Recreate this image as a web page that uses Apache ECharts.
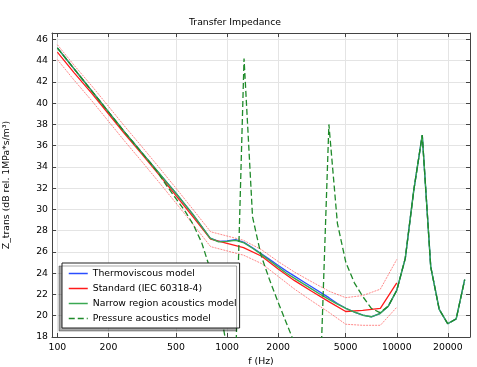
<!DOCTYPE html>
<html><head><meta charset="utf-8">
<script src="https://cdn.jsdelivr.net/npm/echarts@6/dist/echarts.min.js"></script>
<style>html,body{margin:0;padding:0;background:#fff}#c{width:477px;height:367px}</style>
</head><body><div id="c"></div>
<script>
// model frequencies (Hz), 1/20-decade spacing
const freqModel = [100,112.2,125.9,141.3,158.5,177.8,199.5,223.9,251.2,281.8,316.2,354.8,398.1,446.7,501.2,562.3,631,707.9,794.3,891.3,1000,1122,1259,1413,1585,1778,1995,2239,2512,2818,3162,3548,3981,4467,5012,5623,6310,7079,7943,8913,10000,11220,12589,14125,15849,17783,19953,22387,25119];
const thermoviscous = [45.2,44.2,43.2,42.2,41.2,40.2,39.2,38.2,37.2,36.25,35.3,34.35,33.4,32.45,31.5,30.5,29.5,28.4,27.3,27.0,27.05,27.15,26.9,26.4,25.85,25.3,24.75,24.2,23.7,23.2,22.7,22.2,21.7,21.15,20.7,20.35,20.05,19.9,20.2,20.9,22.4,25.4,31.8,37.0,24.6,20.6,19.25,19.7,23.4];
const narrowRegion = [45.2,44.2,43.2,42.2,41.2,40.2,39.2,38.2,37.2,36.25,35.3,34.35,33.4,32.45,31.5,30.5,29.5,28.4,27.3,26.95,27.0,27.1,26.85,26.35,25.8,25.2,24.6,24.0,23.5,23.0,22.5,22.0,21.55,21.1,20.7,20.35,20.05,19.9,20.2,20.9,22.4,25.4,31.8,37.0,24.6,20.6,19.25,19.7,23.4];
const pressureAcoustics = [45.2,44.2,43.2,42.2,41.2,40.2,39.2,38.2,37.2,36.25,35.3,34.35,33.3,32.1,31.0,29.9,28.6,26.9,24.4,21.4,16.9,15.3,44.2,29.3,25.7,23.4,21.3,19.3,17.3,15.0,13.5,14.4,38.0,28.7,25.0,23.1,21.8,20.7,20.3,20.9,22.4,25.4,31.8,37.0,24.6,20.6,19.25,19.7,23.4];
// IEC 60318-4 standard curve and tolerance limits (1/3-octave)
const freqStd = [100,125,160,200,250,315,400,500,630,800,1000,1250,1600,2000,2500,3150,4000,5000,6300,8000,10000];
const standard = [44.8,42.9,40.9,39.0,37.1,35.2,33.2,31.3,29.3,27.2,26.8,26.4,25.6,24.4,23.3,22.3,21.3,20.4,20.5,20.7,23.1];
const stdUpper = [45.5,43.6,41.6,39.7,37.8,35.9,33.9,32.0,30.0,27.9,27.5,27.1,26.2,25.1,24.1,23.2,22.3,21.7,21.9,22.5,25.3];
const stdLower = [44.1,42.2,40.2,38.3,36.4,34.5,32.5,30.6,28.6,26.5,26.1,25.7,24.9,23.7,22.5,21.4,20.3,19.2,19.1,19.1,20.8];
const xTicks = [100,200,500,1000,2000,5000,10000,20000];

const FONT = 'DejaVu Sans';
const FS = 9.3;
function pairs(xs, ys){ return xs.map((x,i)=>[x, ys[i]]); }

const chart = echarts.init(document.getElementById('c'), null, {renderer:'canvas'});
const axisLineStyle = {color:'#444', width:1};
const tickStyle = {show:true, inside:true, length:4, lineStyle:{color:'#444', width:1}};
chart.setOption({
  animation:false,
  backgroundColor:'#fff',
  title:{text:'Transfer Impedance', left:189, top:18, padding:0, textStyle:{fontFamily:FONT, fontSize:FS, fontWeight:'normal', color:'#000'}},
  grid:{left:52, right:7, top:33, bottom:30, containLabel:false, outerBoundsMode:'none'},
  legend:{
    data:['Thermoviscous model','Standard (IEC 60318-4)','Narrow region acoustics model','Pressure acoustics model'],
    orient:'vertical', left:62, top:263, padding:[4,3,3,6], itemGap:2, itemWidth:19, itemHeight:12,
    backgroundColor:'#fff', borderColor:'#222', borderWidth:1,
    shadowColor:'rgba(0,0,0,0.35)', shadowBlur:0, shadowOffsetX:-3, shadowOffsetY:3,
    itemStyle:{opacity:0},
    lineStyle:{width:1.5},
    textStyle:{fontFamily:FONT, fontSize:FS, color:'#000', lineHeight:13}
  },
  xAxis:[{
    type:'log', min:93, max:27000, position:'bottom',
    name:'f (Hz)', nameLocation:'middle', nameGap:13,
    nameTextStyle:{fontFamily:FONT, fontSize:FS, color:'#000'},
    axisLine:{show:true, lineStyle:axisLineStyle},
    axisTick:Object.assign({customValues:xTicks}, tickStyle),
    minorTick:{show:false},
    axisLabel:{customValues:xTicks, margin:6, fontFamily:FONT, fontSize:FS, color:'#000', formatter:v=>String(Math.round(v))},
    splitLine:{show:true, lineStyle:{color:'#e4e4e4', width:1}}
  },{
    type:'log', min:93, max:27000, position:'top',
    axisLine:{show:true, lineStyle:axisLineStyle},
    axisTick:Object.assign({customValues:xTicks}, tickStyle),
    axisLabel:{show:false}, splitLine:{show:false}
  }],
  yAxis:[{
    type:'value', min:18, max:46.6, interval:2, position:'left',
    name:'Z_trans (dB rel. 1MPa*s/m³)', nameLocation:'middle', nameGap:41,
    nameTextStyle:{fontFamily:FONT, fontSize:FS, color:'#000'},
    axisLine:{show:true, lineStyle:axisLineStyle},
    axisTick:tickStyle,
    axisLabel:{margin:4, fontFamily:FONT, fontSize:FS, color:'#000', showMaxLabel:false},
    splitLine:{show:true, lineStyle:{color:'#e4e4e4', width:1}}
  },{
    type:'value', min:18, max:46.6, interval:2, position:'right',
    axisLine:{show:true, lineStyle:axisLineStyle},
    axisTick:tickStyle,
    axisLabel:{show:false}, splitLine:{show:false}
  }],
  series:[
    {name:'Thermoviscous model', type:'line', symbol:'none', data:pairs(freqModel, thermoviscous),
     lineStyle:{color:'#2a4dff', width:1.3}, itemStyle:{color:'#2a4dff'}},
    {name:'Upper limit', type:'line', symbol:'none', data:pairs(freqStd, stdUpper),
     lineStyle:{color:'rgba(255,40,40,0.55)', width:1, type:[2,1]}},
    {name:'Lower limit', type:'line', symbol:'none', data:pairs(freqStd, stdLower),
     lineStyle:{color:'rgba(255,40,40,0.55)', width:1, type:[2,1]}},
    {name:'Standard (IEC 60318-4)', type:'line', symbol:'none', data:pairs(freqStd, standard),
     lineStyle:{color:'#ff1a1a', width:1.3}, itemStyle:{color:'#ff1a1a'}},
    {name:'Narrow region acoustics model', type:'line', symbol:'none', data:pairs(freqModel, narrowRegion),
     lineStyle:{color:'#3aa852', width:1.4}, itemStyle:{color:'#3aa852'}},
    {name:'Pressure acoustics model', type:'line', symbol:'none', data:pairs(freqModel, pressureAcoustics),
     lineStyle:{color:'#1f8a2a', width:1.3, type:[6,3]}, itemStyle:{color:'#1f8a2a'}}
  ]
});
</script></body></html>
